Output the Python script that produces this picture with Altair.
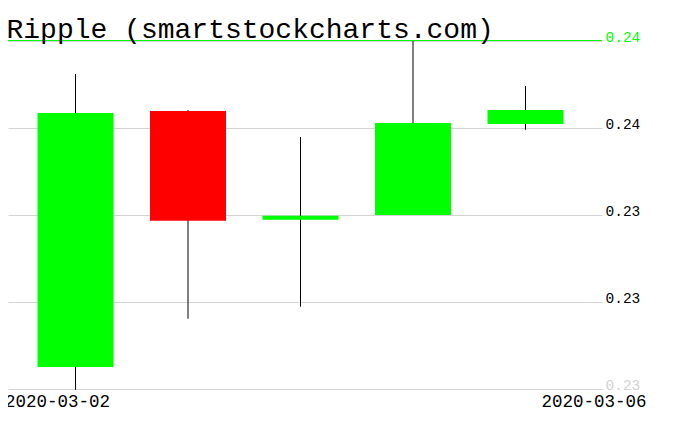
import json

import altair as alt
import pandas as pd

# candle data
dates = ["2020-03-02", "2020-03-03", "2020-03-04", "2020-03-05", "2020-03-06"]
opens = [0.22626, 0.24098, 0.23473, 0.23500, 0.24023]
highs = [0.24310, 0.24103, 0.23948, 0.24500, 0.24241]
lows = [0.22495, 0.22904, 0.22973, 0.23500, 0.23990]
closes = [0.24086, 0.23467, 0.23496, 0.24029, 0.24103]

y_ticks = [0.225, 0.23, 0.235, 0.24, 0.245]
x_ticks = [0, 4]
title = "Ripple (smartstockcharts.com)"

df = pd.DataFrame({
    "idx": list(range(len(dates))),
    "date": dates,
    "open": opens,
    "high": highs,
    "low": lows,
    "close": closes,
})

GREEN = "#00ff00"
RED = "#ff0000"
GRID = "#d3d3d3"
FONT = "Liberation Mono"

x_scale = alt.Scale(domain=[-0.6, 4.68], nice=False, zero=False, padding=0)
x_axis = alt.Axis(
    values=x_ticks,
    title=None,
    grid=False,
    ticks=False,
    tickSize=0,
    domain=False,
    labelFlush=False,
    labelFont=FONT,
    labelFontSize=17.5,
    labelColor="black",
    labelPadding=3,
    labelExpr=json.dumps(dates) + "[datum.value]",
    labelOffset={"condition": {"test": "datum.value == 0", "value": -18.5}, "value": 68},
)

y_scale = alt.Scale(domain=[0.225, 0.245], nice=False, zero=False, padding=0)
y_axis = alt.Axis(
    orient="right",
    values=y_ticks,
    format=".2f",
    title=None,
    ticks=False,
    tickSize=0,
    domain=False,
    gridColor=GRID,
    gridWidth=1,
    gridOpacity=1,
    labelFont=FONT,
    labelFontSize=14.5,
    labelPadding=3,
    labelBaseline="alphabetic",
    labelColor={
        "condition": [
            {"test": "datum.value >= 0.2449", "value": GREEN},
            {"test": "datum.value <= 0.2251", "value": GRID},
        ],
        "value": "black",
    },
)

# green line across the chart at the highest high
top_line = alt.Chart(df).mark_rule(color=GREEN, strokeWidth=1, yOffset=-0.5).encode(
    y=alt.Y("max(high):Q", scale=y_scale, axis=y_axis),
)

wicks = alt.Chart(df).mark_rule(color="black", strokeWidth=1).encode(
    x=alt.X("idx:Q", scale=x_scale, axis=x_axis),
    y=alt.Y("low:Q", scale=y_scale, axis=y_axis),
    y2="high:Q",
)

bodies = alt.Chart(df).mark_bar(size=76).encode(
    x=alt.X("idx:Q", scale=x_scale, axis=x_axis),
    y=alt.Y("open:Q", scale=y_scale, axis=y_axis),
    y2="close:Q",
    color=alt.condition("datum.close >= datum.open", alt.value(GREEN), alt.value(RED)),
)

# chart title drawn as a text mark so it can overlap the top line like the original
heading = alt.Chart(pd.DataFrame({"t": [title]})).mark_text(
    align="left",
    baseline="alphabetic",
    font=FONT,
    fontSize=28,
    color="black",
).encode(
    text="t:N",
    x=alt.value(-1.5),
    y=alt.value(-3),
)

chart = alt.layer(top_line, wicks, bodies, heading).properties(
    width=594,
    height=348,
    autosize=alt.AutoSizeParams(type="none"),
    padding={"left": 0, "top": 33, "right": 60, "bottom": 30},
).configure_view(strokeWidth=0)

chart.save("out.html", embed_options={"renderer": "svg", "actions": False})
